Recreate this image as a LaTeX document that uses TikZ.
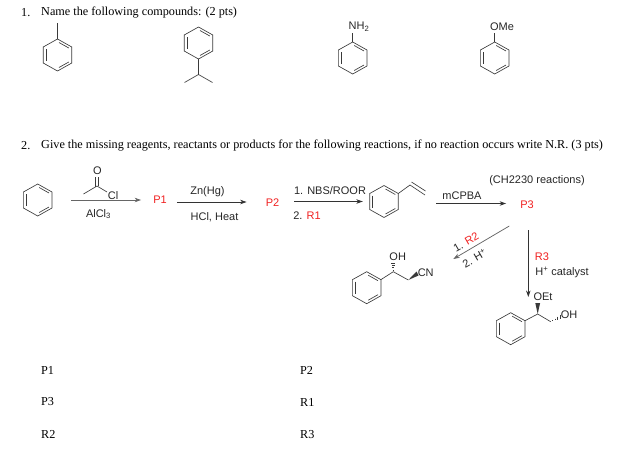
\documentclass[tikz,border=0pt]{standalone}
\usepackage{xcolor}
\usepackage{fontspec}
\setmainfont{Liberation Serif}
\setsansfont{Liberation Sans}
\usepackage{tikz}
\usetikzlibrary{positioning,arrows.meta}
\definecolor{bondgray}{HTML}{3A3A3A}
\definecolor{rxnred}{HTML}{F02020}
\tikzset{
  question/.style={font=\fontsize{12.2}{14}\selectfont,inner sep=0pt,anchor=west},
  answer/.style={font=\fontsize{12.2}{14}\selectfont,inner sep=0pt,anchor=west},
  chem/.style={font=\sffamily\fontsize{11}{13}\selectfont,inner sep=0pt,text=black!85},
  unknown/.style={chem,text=rxnred},
  ringbox/.style={inner sep=0pt,minimum width=28.6pt,minimum height=32pt},
  bond/.style={draw=bondgray,line width=0.65pt},
  rxn/.style={-{Stealth[length=6.5pt,width=4.5pt]},line width=0.75pt,draw=black!80},
  rxngray/.style={-{Stealth[length=6.5pt,width=4.5pt]},line width=0.75pt,draw=black!60},
}
% benzene ring around a named node
\newcommand{\benzring}[3]{
  \node[ringbox] (#1) at (#2,#3) {};
  \begin{scope}[shift={(#2,#3)},bond]
    \draw (0,-16) -- (14.3,-8) -- (14.3,8) -- (0,16) -- (-14.3,8) -- (-14.3,-8) -- cycle;
    \draw (-11.3,-6) -- (-11.3,6);
    \draw (1.5,-12.5) -- (11.3,-7);
    \draw (1.5,12.5) -- (11.3,7);
  \end{scope}
}
\begin{document}
\begin{tikzpicture}[x=1pt,y=-1pt]
  \useasboundingbox (0,0) rectangle (631,461);

  % question text
  \node[question] (qone) at (21,12.5) {1.};
  \node[question] (qonetext) at (41,12.5) {Name the following compounds: (2 pts)};
  \node[question] (qtwo) at (21,145.5) {2.};
  \node[question] (qtwotext) at (41,145.5) {Give the missing reagents, reactants or products for the following reactions, if no reaction occurs write N.R. (3 pts)};

  % compounds to name
  \benzring{toluene}{57.5}{55}
  \coordinate (methyl) at (57.5,23);
  \draw[bond] (toluene.north) -- (methyl);

  \benzring{cumene}{198.5}{43}
  \coordinate (iprc) at (198.5,74.5);
  \coordinate (iprl) at (184.5,82.5);
  \coordinate (iprr) at (212.5,82.5);
  \draw[bond] (cumene.south) -- (iprc);
  \draw[bond] (iprl) -- (iprc) -- (iprr);

  \benzring{aniline}{352.7}{58}
  \node[chem] (nhtwo) at (359,27) {NH\textsubscript{2}};
  \draw[bond] (aniline.north) -- (352.7,33);

  \benzring{anisole}{494.7}{58}
  \node[chem] (ome) at (502,27) {OMe};
  \draw[bond] (anisole.north) -- (494.7,33);

  % reaction scheme
  \benzring{benzene}{37.7}{200}
  \node[unknown] (Pone) at (160,200) {P1};
  \node[unknown] (Ptwo) at (272.5,203) {P2};
  \benzring{styrene}{384}{201.5}
  \node[unknown] (Pthree) at (527,205) {P3};

  \draw[rxngray,shorten <=19pt,shorten >=12pt] (benzene.east) -- (Pone.west);
  \draw[rxn,shorten <=10pt,shorten >=19pt] ([yshift=-2pt]Pone.east) -- ([yshift=1pt]Ptwo.west);
  \draw[rxn,shorten <=15pt,shorten >=6.7pt] ([yshift=1.5pt]Ptwo.east) -- (styrene.west);
  \draw[rxn,shorten <=37.7pt,shorten >=14pt] ([yshift=-2pt]styrene.east) -- ([yshift=1.5pt]Pthree.west);

  % acyl chloride over the first arrow
  \node[chem] (oxy) at (97.5,171) {O};
  \node[chem] (cl) at (113,196) {Cl};
  \node[chem] (alcl) at (98.5,214) {AlCl\textsubscript{3}};
  \coordinate (acylc) at (97,186);
  \coordinate (acylme) at (83.5,194);
  \coordinate (acylcl) at (107,192);
  \draw[bond] (acylme) -- (acylc) -- (acylcl);
  \draw[bond] (95.8,177) -- (95.8,186.5);
  \draw[bond] (98.6,177) -- (98.6,186);

  \node[chem] (znhg) at (207.5,191.5) {Zn(Hg)};
  \node[chem] (hcl) at (214.5,217) {HCl, Heat};
  \node[chem] (nbs) at (330,190.5) {1. NBS/ROOR};
  \node[chem] (rone) at (307,216) {2. \textcolor{rxnred}{R1}};
  \node[chem] (mcpba) at (462,195.7) {mCPBA};
  \node[chem] (course) at (537,181) {(CH2230 reactions)};

  % vinyl group
  \coordinate (vinyla) at (410,185);
  \coordinate (vinylb) at (425,195);
  \draw[bond] (398.3,193.5) -- (vinyla) -- (vinylb);
  \draw[bond] (411.5,182) -- (425.5,191);

  % branch to the nitrile
  \coordinate (sw) at (509.3,226);
  \coordinate (nitrile) at (453.3,259);
  \draw[rxngray] (sw) -- (nitrile);
  \node[chem,rotate=30] (rtwo) at (466,242) {1. \textcolor{rxnred}{R2}};
  \node[chem,rotate=30] (hplus) at (474.5,258) {2. H\textsuperscript{+}};

  \benzring{nitrilering}{366.7}{287.7}
  \node[chem] (ohone) at (397.7,256.7) {OH};
  \node[chem] (cn) at (425.7,272.7) {CN};
  \coordinate (cohone) at (393.3,271.7);
  \coordinate (chtwo) at (408.3,280);
  \draw[bond] (380.8,279.7) -- (cohone) -- (chtwo);
  \fill[bondgray] (chtwo) -- (416.5,271.5) -- (418.5,275.5) -- cycle;
  \foreach \k in {0,1,2,3}
    \draw[bondgray,line width=0.5pt] (393.3-0.4-0.5*\k,270-2.4*\k) -- (393.3+0.4+0.5*\k,270-2.4*\k);

  % branch to the ether
  \coordinate (south) at (528.3,230);
  \node[chem] (oet) at (543,297) {OEt};
  \draw[rxn] (south) -- (south |- oet);
  \node[unknown] (rthree) at (542,257) {R3};
  \node[chem] (catalyst) at (562,272.7) {H\textsuperscript{+} catalyst};

  \benzring{etherring}{510.7}{328.7}
  \node[chem] (ohtwo) at (569,314.7) {OH};
  \coordinate (coet) at (537.7,314);
  \coordinate (chtwob) at (550.7,321.7);
  \draw[bond] (525,320.7) -- (coet) -- (chtwob);
  \fill[bondgray] (coet) -- (535.3,303) -- (540.1,303) -- cycle;
  \foreach \k in {0,1,2,3}
    \draw[bondgray,line width=0.5pt] (552.5+2.6*\k,320.7-1.3*\k-0.4-0.5*\k) -- (552.5+2.6*\k,320.7-1.3*\k+0.4+0.5*\k);

  % answer lines
  \node[answer] (aPone) at (41,370) {P1};
  \node[answer] (aPthree) at (41,402) {P3};
  \node[answer] (aRtwo) at (41,434.5) {R2};
  \node[answer] (aPtwo) at (300,370) {P2};
  \node[answer] (aRone) at (300,402) {R1};
  \node[answer] (aRthree) at (300,434.5) {R3};
\end{tikzpicture}
\end{document}
